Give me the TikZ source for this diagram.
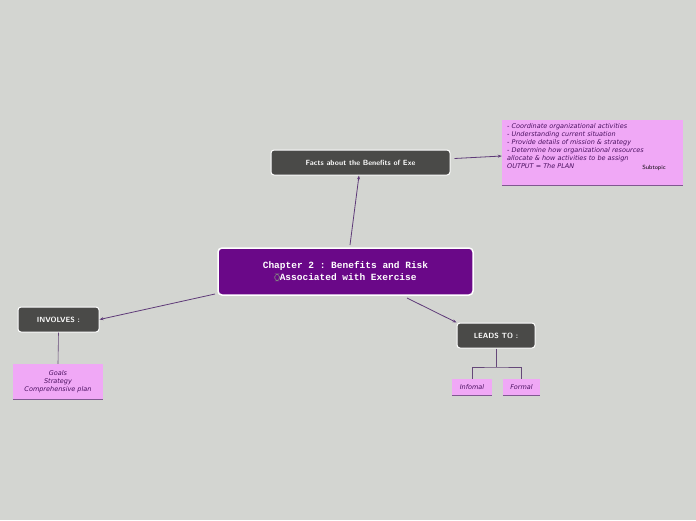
\documentclass[tikz,border=0pt]{standalone}
\usepackage{fontspec}
\setmainfont{DejaVu Sans}
\setmonofont{Liberation Mono}
\usetikzlibrary{arrows.meta}
\definecolor{bg}{HTML}{D3D5D1}
\definecolor{cpurp}{HTML}{6A0888}
\definecolor{dk}{HTML}{4A4A48}
\definecolor{pk}{HTML}{F0A8F6}
\definecolor{ln}{HTML}{5E3A78}
\definecolor{ptxt}{HTML}{4A1060}
\tikzset{
 x=1pt,y=-1pt,
 dkbox/.style={draw=white,line width=1pt,rounded corners=3pt,fill=dk,text=white,font=\sffamily\bfseries\fontsize{7.5}{9}\selectfont,minimum height=25pt,inner xsep=8pt},
 note/.style={fill=pk,text=ptxt,font=\itshape\fontsize{6.5}{8}\selectfont,inner sep=0pt},
 conn/.style={ln,line width=0.8pt,-{Stealth[length=4pt,width=3pt]}},
 plain/.style={ln!80!gray,line width=0.6pt}
}
\begin{document}
\begin{tikzpicture}
\fill[bg] (0,0) rectangle (696,520);
\useasboundingbox (0,0) rectangle (696,520);
\node[draw=white,line width=1.5pt,rounded corners=4pt,fill=cpurp,text=white,minimum width=255pt,minimum height=47pt,font=\ttfamily\bfseries\fontsize{9.5}{12}\selectfont,align=center] (c) at (345.5,271.5) {Chapter 2 : Benefits and Risk\\\tikz[baseline]\draw[gray,line width=0.4pt](0,0)rectangle(5pt,7pt);Associated with Exercise};
\node[dkbox,minimum width=179pt] (f) at (360.5,162.5) {Facts about the Benefits of Exe};
\node[dkbox,minimum width=81pt] (i) at (58.5,319.5) {INVOLVES :};
\node[dkbox,minimum width=78pt] (l) at (496,335.5) {LEADS TO :};
\node[note,minimum width=181pt,minimum height=65pt] (n) at (592.5,152.5) {};
\node[note,anchor=north west,align=left] (nt) at (507,123) {- Coordinate organizational activities\\- Understanding current situation\\- Provide details of mission \& strategy\\- Determine how organizational resources\\allocate \& how activities to be assign\\OUTPUT = The PLAN};
\node[font=\sffamily\fontsize{6}{7}\selectfont,text=black,inner sep=0pt] (st) at (654,168) {Subtopic};
\draw[ptxt!70,line width=0.6pt] (n.south west)--(n.south east);
\node[note,minimum width=90pt,minimum height=35pt,align=center] (g) at (58,381.5) {Goals\\Strategy\\Comprehensive plan};
\draw[ptxt!70,line width=0.6pt] (g.south west)--(g.south east);
\node[note,minimum width=40pt,minimum height=16pt] (inf) at (472,387) {Infomal};
\node[note,minimum width=37pt,minimum height=16pt] (fo) at (521.5,387) {Formal};
\draw[ptxt!70,line width=0.6pt] (inf.south west)--(inf.south east) (fo.south west)--(fo.south east);
\draw[conn] (350,245) -- (f.south -| 359,0);
\draw[conn] (f.east) ++(4,-4) coordinate (fe) (fe) -- (n.west |- 0,156);
\draw[conn] (215,294) -- (i.east);
\draw[conn] (407,298) -- (l.north west);
\draw[plain] (i.south) -- (g.north);
\draw[plain] (l.south) -- (496,367) coordinate (lb);
\draw[plain] (inf.north) |- (lb) -| (fo.north);
\end{tikzpicture}
\end{document}
